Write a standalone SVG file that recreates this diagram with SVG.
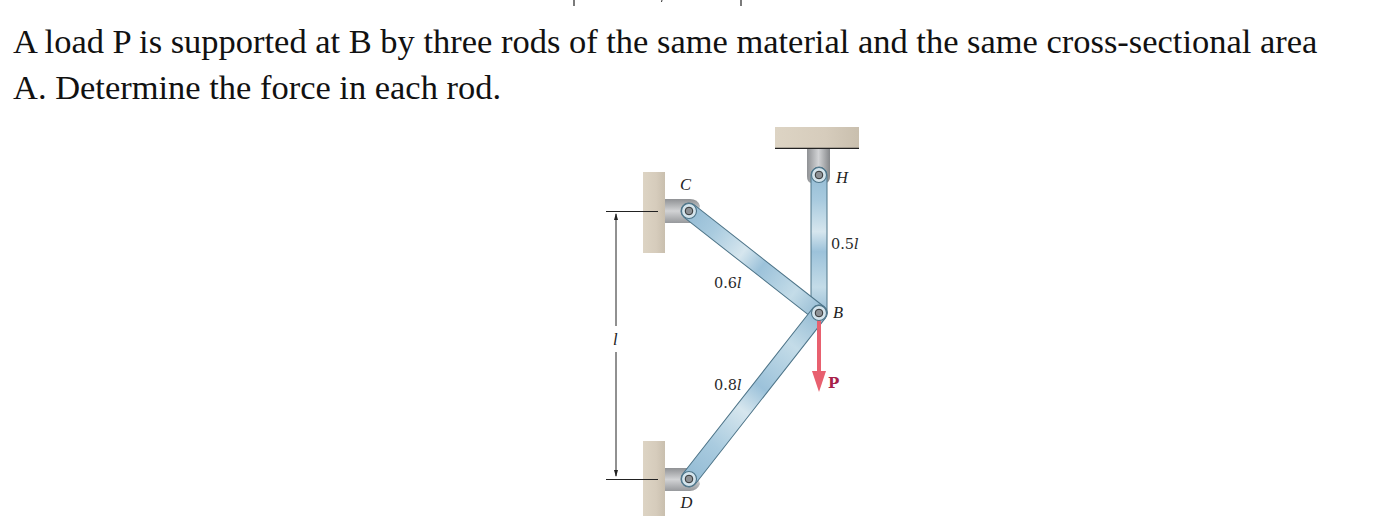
<svg xmlns="http://www.w3.org/2000/svg" width="1389" height="516" viewBox="0 0 1389 516">
<style>
.q{font-family:"Liberation Serif","Times New Roman",serif;font-size:34.47px;fill:#111}
.l{font-family:"DejaVu Serif","Liberation Serif",serif;font-size:14.5px;fill:#2a2a2a}
.i{font-family:"Liberation Serif",serif;font-style:italic;fill:#222}
.wall{fill:url(#wallG)}
.edge{stroke:#222;stroke-width:1.3;fill:none}
.rod{fill:url(#rodG);stroke:#4d7488;stroke-width:1}
.dim{stroke:#222;stroke-width:1;fill:none}
.brk{fill:url(#brkG)}
</style>
<defs>
<linearGradient id="wallG" x1="0" y1="0" x2="1" y2="0"><stop offset="0" stop-color="#ddd4c4"/><stop offset=".6" stop-color="#d6ccbc"/><stop offset="1" stop-color="#c9bfae"/></linearGradient>
<linearGradient id="brkG" x1="0" y1="0" x2="0" y2="1"><stop offset="0" stop-color="#8f9194"/><stop offset=".5" stop-color="#d2d3d5"/><stop offset="1" stop-color="#97999c"/></linearGradient>
<linearGradient id="brkV" x1="0" y1="0" x2="1" y2="0"><stop offset="0" stop-color="#8f9194"/><stop offset=".5" stop-color="#d2d3d5"/><stop offset="1" stop-color="#85878a"/></linearGradient>
<linearGradient id="rodG" x1="0" y1="0" x2="1" y2="0"><stop offset="0" stop-color="#8fb8d2"/><stop offset=".22" stop-color="#a9cbdf"/><stop offset=".42" stop-color="#d6e6ee"/><stop offset=".55" stop-color="#9cc2da"/><stop offset=".78" stop-color="#c4dce8"/><stop offset="1" stop-color="#8ab4cf"/></linearGradient>
<g id="pin"><circle r="7.5" fill="#d4e4ec" stroke="#4d7488" stroke-width="1.1"/><circle r="3.8" fill="#8e9296" stroke="#333" stroke-width="1"/></g>
</defs>

<g id="question">
<text class="q" x="13" y="53">A load P is supported at B by three rods of the same material and the same cross-sectional area</text>
<text class="q" x="13" y="99">A. Determine the force in each rod.</text>
</g>

<g id="cut-top" stroke="#333" stroke-width="1.3">
<line x1="574" y1="0" x2="574" y2="6"/>
<line x1="662" y1="0" x2="661.500" y2="2" stroke-width="1"/>
<line x1="741" y1="0" x2="741" y2="6"/>
</g>

<g id="wall-H">
<rect class="wall" x="775" y="127" width="84" height="21"/>
<line class="edge" x1="775" y1="148.300" x2="859" y2="148.300"/>
<path d="M807 149H830V176Q830 182 826 183H811Q807 182 807 176Z" fill="url(#brkV)"/>
</g>
<g id="wall-C">
<rect class="wall" x="643" y="172" width="22" height="81"/>
<path d="M665 199H690Q698 199 700 206L695 223H665Z" class="brk"/>
</g>
<g id="wall-D">
<rect class="wall" x="643" y="441" width="22" height="75"/>
<path d="M665 468H695L700 484Q697 491 690 491H665Z" class="brk"/>
</g>

<g id="connectors">
<rect class="rod" x="-8" y="-8" width="154" height="16" rx="8" transform="translate(819 175) rotate(90)"/>
<rect class="rod" x="-8" y="-8" width="181" height="16" rx="8" transform="translate(689 211) rotate(38.100)"/>
<rect class="rod" x="-8" y="-8" width="227" height="16" rx="8" transform="translate(689 479) rotate(-51.900)"/>
<line x1="819" y1="318" x2="819" y2="373" stroke="#e8606f" stroke-width="4"/>
<path d="M812 371H826L819 392Z" fill="#e8606f"/>
<g class="dim">
<line x1="606" y1="211.500" x2="658" y2="211.500"/>
<line x1="606" y1="479.500" x2="658" y2="479.500"/>
<line x1="616" y1="214" x2="616" y2="326"/>
<line x1="616" y1="352" x2="616" y2="476"/>
</g>
<path d="M616 213L614 220H618Z M616 477L614 470H618Z" fill="#222"/>
</g>

<g id="node-H"><use href="#pin" x="819" y="175"/><text class="i" x="836" y="183" font-size="16.500">H</text></g>
<g id="node-C"><use href="#pin" x="689" y="211"/><text class="i" x="680" y="190" font-size="16.500">C</text></g>
<g id="node-D"><use href="#pin" x="689" y="479"/><text class="i" x="680.500" y="508" font-size="16.500">D</text></g>
<g id="node-B"><use href="#pin" x="819" y="313"/><text class="i" x="833" y="318" font-size="16.500">B</text></g>
<g id="labels">
<text class="l" x="831" y="249">0.5<tspan font-style="italic">l</tspan></text>
<text class="l" x="714" y="288">0.6<tspan font-style="italic">l</tspan></text>
<text class="l" x="714" y="390">0.8<tspan font-style="italic">l</tspan></text>
<text x="828" y="388" font-family="'DejaVu Serif',serif" font-size="15" font-weight="bold" fill="#a8224a">P</text>
<text class="i" x="613" y="345" font-size="16.500">l</text>
</g>
</svg>
